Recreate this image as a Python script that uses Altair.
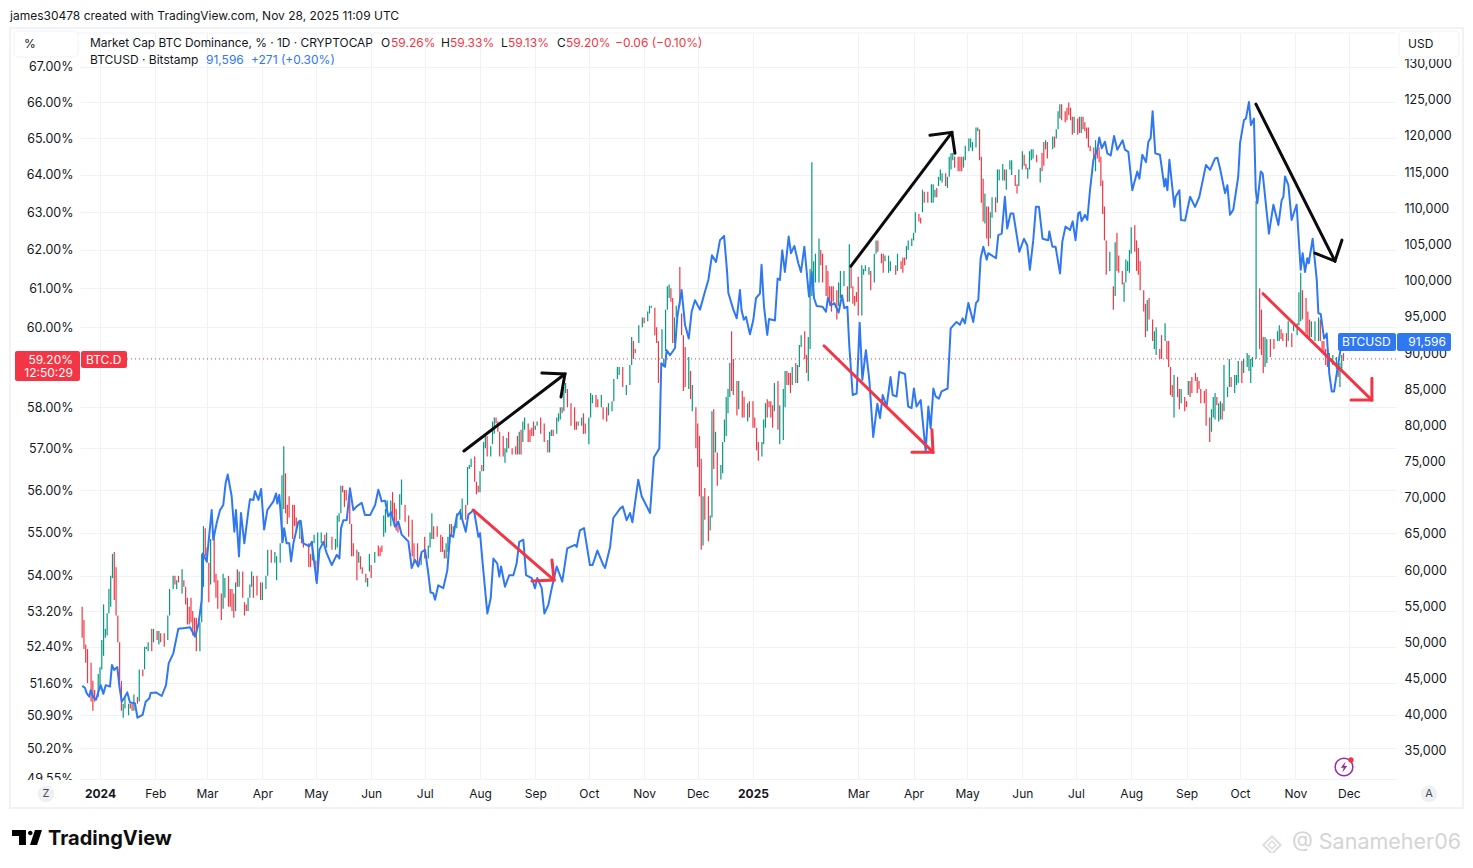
import altair as alt
import pandas as pd

FONT = "Inter"
RED = "#F23645"
GREEN = "#089981"
BLUE = "#2F78F2"
INK = "#131722"
GRID = "#F1F2F5"

# (day since 2024-01-01, low %, high %)
falling_candles = [
(-10,52.6,53.3),(-9,52.35,53.0),(-8,52.05,52.45),(-7,51.6,52.35),(-5,51.2,52.05),(-4,51.0,51.65),(-3,51.2,51.45),
(8,53.45,54.55),(9,53.1,54.2),(10,52.5,53.1),(11,51.65,52.5),(12,51,51.65),(17,51.05,51.15),(18,51,51.15),(21,51.15,51.3),(24,51.75,51.9),
(29,52.3,52.8),(32,52.55,52.75),(34,52.5,52.7),(36,52.4,52.7),(42,53.8,54),(44,53.85,54),(47,53.75,53.9),(48,53.35,53.75),(49,52.9,53.5),
(50,52.9,53.3),(51,52.95,53.5),(52,52.65,53.2),(53,52.65,53.05),(54,52.3,53.05),(59,54.45,55.1),(60,54.3,54.65),(61,53.4,54.3),(64,53.85,55.05),
(65,53.5,54.05),(66,53.25,53.9),(68,53,53.6),(72,53.3,54),(73,53.3,53.7),(74,53.2,53.7),(75,53.05,53.6),(77,53.75,54.15),(80,53.5,54.1),
(81,53.1,53.4),(82,53.2,53.35),(86,53.5,54),(88,53.55,54),(90,53.45,53.85),(96,54.3,54.6),(104,55.45,56.4),(105,55.2,55.65),(106,55.35,55.85),
(108,54.85,55.65),(109,55.15,55.65),(110,55,55.35),(113,54.75,55.1),(114,54.65,54.85),(117,54.2,54.75),(118,54.2,54.5),(121,53.9,54.35),
(126,54.7,54.95),(130,54.6,54.9),(136,55.95,56.1),(137,55.6,56),(138,55.75,56),(140,55.2,56.05),(141,54.45,55.2),(142,54.45,54.75),(144,53.9,54.6),
(146,54.15,54.45),(147,54.05,54.2),(149,53.85,54.05),(152,53.95,54.25),(156,54.45,54.7),(157,54.45,54.65),(158,54.55,54.7),(164,55.3,55.95),
(165,55.15,55.7),(166,55.05,55.55),(167,55,55.25),(171,55.25,55.65),(173,54.9,55.4),(175,54.45,55.3),(176,54.3,54.75),(178,54.3,54.75),
(182,54.4,54.9),(187,54.85,55.15),(189,54.9,55.15),(191,54.55,54.95),(192,54.55,54.9),(193,54.4,54.6),(197,54.9,55.2),(205,55.3,55.65),
(210,56.2,56.8),(211,55.9,56.2),(212,55.95,56.1),(214,56.45,56.6),(217,56.8,57.3),(222,57.6,57.75),(223,57.4,57.65),(224,56.8,57.4),(226,56.8,57.3),
(229,57,57.4),(231,56.85,57),(233,56.85,57.05),(234,56.85,57.3),(236,56.85,57.45),(240,57.15,57.6),(241,57.15,57.45),(242,57.3,57.5),(243,57.3,57.65),
(247,57.35,57.75),(249,57.15,57.6),(251,56.9,57.2),(254,57.3,57.45),(259,57.85,58),(262,58,58.45),(264,57.55,58.1),(266,57.45,58),(267,57.45,57.65),
(271,57.35,57.85),(272,57.35,57.6),(278,58,58.3),(279,58,58.2),(282,57.7,58),(284,57.65,58),(293,58.5,59),(299,59.2,59.65),(300,59.35,59.45),
(305,60.1,60.25),(311,59.8,60.5),(312,59.6,60),(313,58.6,59.65),(320,60.65,61),(321,59.6,60.75),(325,60.55,61.55),(326,59.8,60.35),(327,58.4,59.8),
(328,58.5,59.5),(331,58.2,58.9),(334,57,58),(335,56.55,57.6),(336,55.85,57.3),(337,54.6,56.75),(339,55.3,56.05),(341,54.8,55.85),(344,56.5,57.95),
(346,56.1,56.9),(354,58.4,59.9),(355,58.3,59.2),(357,57.8,58.65),(360,57.75,58.4),(361,57.75,58.25),(364,57.75,58.15),(366,57.5,58.15),(367,57.5,57.75),
(368,56.95,57.5),(369,56.7,57.15),(374,57.75,58.2),(375,58,58.15),(376,57.75,58.15),(377,57.5,58.05),(380,57.45,58.65),(385,58.55,58.9),(386,58.55,58.85),
(387,58.35,58.85),(390,58.6,59.1),(395,59.2,59.9),(396,58.85,59.3),(404,61.6,62),(405,61.15,61.9),(407,60.8,61.6),(408,60.65,61.45),(409,60.55,61.05),
(410,60.4,61.05),(411,60.65,61.05),(413,60.2,60.95),(419,60.65,61.05),(421,61,61.6),(422,60.6,61.05),(423,60.55,60.8),(424,60.65,60.9),(425,60.3,61.3),
(432,60.95,61.45),(436,61.95,62.25),(438,61.65,61.9),(439,61.4,61.9),(446,61.35,61.6),(449,61.5,61.7),(450,61.4,61.8),(451,61.6,61.8),(459,62.75,62.95),
(460,62.7,62.85),(462,63.25,63.55),(464,63.25,63.55),(469,63.4,63.65),(474,63.7,64.05),(479,64.2,64.5),(481,64.1,64.5),(482,64.1,64.5),(483,64.1,64.5),
(493,64.4,65.25),(494,63.25,64.5),(495,62.75,63.9),(497,62.3,63.15),(498,62.1,63.15),(502,63,63.4),(507,63.85,64.15),(513,63.7,64),(514,63.5,63.75),
(518,64.25,64.55),(519,64.15,64.3),(525,64.35,64.55),(528,64.1,64.6),(529,64.25,64.9),(531,64.45,64.9),(535,64.75,65.05),(539,65.5,65.95),(541,65.45,65.75),
(542,65.5,65.85),(543,65.65,66),(544,65.5,65.85),(545,65.1,65.6),(548,65.1,65.55),(549,65.15,65.6),(551,65.25,65.6),(552,65.2,65.45),(553,65,65.3),
(554,64.75,65.3),(555,64.65,64.8),(557,64.4,64.75),(559,64.45,64.75),(560,64.35,64.75),(561,63.7,64.5),(562,62.95,63.85),(563,62.25,63.15),(564,61.35,62.25),
(568,60.45,61.05),(570,61.45,62.45),(571,61.4,61.85),(573,61.1,61.45),(580,61.95,62.65),(581,61.45,62.25),(582,61.35,62.05),(583,60.95,61.7),(585,60.4,60.95),
(586,59.75,60.6),(588,60.2,60.75),(590,59.65,60.2),(594,59.2,59.45),(595,59.2,59.8),(598,59.2,59.65),(599,59,59.65),(600,58.3,59),(601,58.25,58.55),
(604,58.25,58.75),(605,57.95,58.45),(608,57.9,58.25),(609,58,58.15),(611,58.25,58.65),(612,58.35,58.75),(614,58.65,58.85),(615,58.35,58.75),(616,58.45,58.65),
(617,58.1,58.45),(619,58.1,58.4),(620,57.55,58.45),(622,57.15,57.75),(626,58.05,58.25),(629,57.7,58.1),(634,58.5,58.75),(640,58.6,59.15),(650,59.45,61),
(651,59.3,60.45),(652,58.85,59.75),(656,59.25,59.7),(658,59.45,59.7),(662,59.7,59.95),(663,59.65,59.85),(665,59.5,59.85),(668,59.5,59.85),(674,60.2,60.95),
(676,59.85,60.75),(677,59.75,60.4),(678,59.7,60.2),(684,59.65,60.2),(685,59.35,59.65),(686,59.3,59.65),(687,59.05,59.45),(688,59,59.3),(694,58.75,59.05),(697,59.15,59.35),
]
rising_candles = [
(-1,51.3,51.8),(0,51.5,51.95),(1,51.9,52.55),(2,52.2,53.35),(3,52.6,52.8),(4,52.65,53.15),(5,53.15,53.7),(6,53.3,54),(7,53.95,54.5),(13,50.85,51.15),
(14,51.05,51.3),(16,50.9,51.15),(19,51,51.35),(22,51.2,51.9),(25,51.9,52.4),(26,52.35,52.4),(27,52.3,52.5),(30,52.5,52.8),(33,52.45,52.75),(38,52.55,53.1),
(39,53.1,53.7),(41,53.7,54),(43,53.7,53.9),(46,53.6,54.15),(56,52.3,52.95),(57,52.95,54.5),(58,53.75,55.15),(62,53.8,54.85),(69,53.25,54.05),(70,53.5,53.95),
(76,53.2,53.85),(78,53.75,54.1),(83,53.2,53.5),(84,53.5,53.8),(85,53.75,54.1),(91,53.45,53.85),(93,53.7,54),(94,54,54.6),(98,54.3,54.55),(99,53.9,54.45),
(101,54.3,54.75),(102,54.75,56.35),(103,55.55,57.05),(112,54.85,55.3),(119,54.35,54.8),(120,54.75,54.95),(122,54.05,55),(124,54.75,55),(127,54.65,55),
(132,54.6,54.85),(133,54.65,55.4),(134,55.25,55.45),(135,55.45,56.1),(145,54.3,54.55),(150,53.75,53.95),(151,54.1,54.5),(154,54.3,54.55),(159,54.9,55.4),
(160,55,55.55),(161,55.45,55.75),(163,55.15,55.75),(168,55.3,55.9),(169,55.65,56.25),(180,54.25,54.5),(184,54.4,54.7),(185,54.65,55),(186,54.85,55.45),
(194,54.4,54.75),(195,54.55,54.9),(196,54.75,55.2),(198,55,55.15),(200,55.1,55.45),(202,55.3,55.55),(203,55.35,55.8),(206,55.65,56.55),(207,56.5,56.6),
(208,56.55,56.75),(213,55.95,56.45),(215,56.45,57.15),(216,57,57.35),(219,56.8,57.05),(220,57.1,57.65),(221,57.35,57.75),(227,56.65,57),(228,56.9,57.25),
(235,56.85,57.4),(237,57.15,57.65),(238,57.45,57.75),(244,57.45,57.55),(245,57.55,57.65),(252,56.9,57.4),(253,57.3,57.45),(256,57.35,57.75),(257,57.65,57.85),
(258,57.7,58),(260,57.9,58.5),(261,58.35,58.6),(268,57.55,57.65),(270,57.55,57.75),(274,57.1,57.75),(275,57.75,58.35),(276,58.1,58.3),(281,58,58.3),
(285,57.8,58.1),(287,57.9,58.15),(288,58.15,58.7),(290,58.7,59),(291,58.8,59),(295,58.3,58.55),(297,58.55,59.05),(298,59.05,59.75),(302,59.6,60.05),
(304,60,60.25),(307,60.15,60.4),(308,60.35,60.55),(309,60.5,60.55),(315,59.2,59.95),(316,59,59.2),(317,59.4,60.45),(318,60.45,61.05),(319,60.75,61.1),
(322,59.6,60.25),(323,60.25,60.55),(330,58.45,59.25),(332,57.9,58.55),(338,54.7,55.85),(342,55.05,55.4),(343,55.35,57.9),(345,56.9,57.4),(348,56.25,56.6),
(349,56.4,57.15),(350,57.15,57.7),(351,57.3,58.25),(352,57.85,58.45),(353,58.25,59.1),(358,57.95,58.65),(363,57.65,58.1),(371,56.8,57.15),(372,57.1,57.7),
(373,57.5,58.1),(378,57.9,58.6),(381,57.1,58.05),(383,57.2,58.45),(384,58,58.9),(388,58.55,59),(391,58.6,59.05),(392,59,59.55),(393,59.5,59.8),(397,58.65,59.75),
(398,59.45,61.5),(399,60.8,64.35),(400,60.8,61.7),(401,61.15,61.9),(403,61.15,62.3),(414,60.55,61.15),(415,60.75,61.45),(417,61.05,61.45),(420,60.65,62.15),
(427,60.3,61.6),(428,61.35,61.5),(429,61.45,61.6),(431,61.35,61.55),(434,61.15,61.9),(435,61.9,62.25),(440,61.7,61.85),(442,61.4,61.85),(443,61.45,61.7),
(447,61.45,61.9),(452,61.75,62.1),(453,62,62.25),(455,62.1,62.3),(456,62.25,62.45),(457,62.45,63),(461,63,63.6),(466,63.25,63.75),(467,63.25,63.75),
(468,63.4,63.6),(470,63.7,63.95),(471,63.85,64.15),(472,63.8,64.05),(475,63.65,63.95),(476,63.95,64.5),(477,64.15,64.6),(478,64.4,64.6),(484,64.2,64.5),
(485,64.4,64.8),(487,64.65,65),(488,64.75,65),(489,64.65,64.9),(491,64.75,65.3),(492,65.2,65.3),(496,62.7,63.5),(499,62.3,63),(500,62.85,63.4),(503,63.25,64.15),
(504,63.85,64.15),(506,63.85,64.3),(508,63.6,64.15),(510,64.15,64.4),(511,64,64.4),(515,63.7,64.15),(517,64.15,64.65),(520,63.9,64.2),(521,64.15,64.65),
(522,64.4,64.7),(523,64.45,64.7),(527,63.8,64.2),(530,64.7,64.95),(534,64.7,65.05),(536,65,65.25),(537,65.25,65.75),(538,65.55,65.95),(546,65.15,65.6),
(550,65.15,65.6),(558,64.1,64.95),(566,61.45,61.95),(569,60.8,62.2),(574,60.65,61.15),(575,61.15,61.75),(576,61.45,61.7),(577,61.4,62),(578,61.9,62.6),
(587,59.9,60.7),(591,59.45,59.9),(592,59.3,60),(597,59.65,60.1),(602,57.75,58.8),(606,58.1,58.45),(610,58.3,58.65),(623,57.4,57.95),(624,57.75,58.25),
(625,57.7,58.35),(627,57.65,58.1),(628,57.7,58.15),(630,57.9,59.05),(632,58.25,58.5),(633,58.5,59.2),(636,58.35,58.8),(637,58.55,58.8),(638,58.6,59.15),
(641,58.85,59.2),(643,59,59.35),(644,58.9,59.3),(645,58.6,59.2),(646,59,59.25),(648,59.2,63.3),(653,59,59.75),(654,59.1,59.7),(660,59.65,59.9),(661,59.65,60.05),
(666,59.65,60.15),(669,59.9,60.05),(671,59.8,60.1),(672,60.05,60.9),(673,60.15,61.4),(679,59.75,60.15),(681,59.65,60.15),(683,59.65,60.25),(689,58.9,59.35),
(691,59.05,59.3),(693,58.95,59.25),(695,58.5,59.1),(696,58.9,59.3),
]

# (day since 2024-01-01, BTCUSD in thousands)
btc_path = [
(-9.9,44),(-8.4,43.7),(-7.5,43),(-6,42.5),(-5.2,43.4),(-3.7,42.4),(-2.2,42.1),(-.9,43.2),(.4,44.1),(1.9,42.9),(3.2,44.1),(5.6,43.9),(6.7,46.9),(7.9,46.2),(9.7,46.6),
(10.9,43.9),(12.2,41.8),(14,42.5),(15.3,43.1),(16.8,41.7),(19.6,41.6),(21,39.6),(23.9,40),(25.6,41.8),(27.7,42.3),(28.4,43),(31.4,43.1),(34.6,42.6),(37,44.1),(38.5,47.1),
(41.1,48.5),(43,50.8),(43.9,51.9),(47.7,52),(50.5,52.1),(53.3,50.8),(55.1,52.4),(57,55.9),(57.6,62.3),(59.8,61.2),(62.6,68.3),(63.5,64.2),(65.4,66.5),(67.3,68.3),(69.1,69),
(70.4,72),(71.6,73.2),(73.8,70.2),(75.3,65.3),(76.2,68.3),(77.9,61.9),(79,67.9),(80.9,63.7),(83.2,68.3),(84.1,69.8),(86,69.7),(86.9,70.9),(88.8,69.7),(90.3,71.2),(92,65.6),
(93.8,68.3),(97.2,69.5),(98.7,70.6),(99.4,69.2),(100.5,70.4),(102.4,63.9),(103.2,65.8),(104.6,63.7),(106.1,63.7),(107.1,61.2),(108.4,63.7),(111.2,66.7),(112.5,66.8),(114,63.7),
(117.3,63.3),(118.7,63.9),(121.5,58.2),(123,62.8),(125.2,63.9),(127.1,62.3),(129.9,60.7),(132.7,62.1),(134.2,61.6),(135.1,65.8),(136.4,66.9),(138.3,66.9),(140.1,71.3),(142,68.3),
(143.9,68.8),(146.7,69.3),(148.5,67.6),(151.4,67.6),(154.2,69),(156,71.1),(157.9,69.5),(159.8,69.6),(161.6,67.4),(163.1,68),(165.4,66),(167.2,66.7),(169.1,64.9),(171.9,64.2),
(172.8,64),(173.8,62.1),(174.7,60.3),(176.6,61.4),(178.4,60.5),(180.3,62.5),(182.2,62.8),(184,59.6),(185.3,56.9),(186.8,56.8),(187.8,55.9),(189.6,57.9),(192.4,57.5),(194.7,60),
(196.2,64.9),(198,64.6),(199.9,67.4),(201.8,68.1),(205,65.3),(206.5,67.7),(209.6,68.3),(212.1,64.6),(213,65.1),(214.5,60.9),(217.1,54),(219,56.1),(220.5,61.6),(222.7,60.9),
(223.8,59.1),(224.8,60.5),(227,57.7),(229.4,59.3),(231.7,59.3),(233.5,60.9),(235,63.9),(237.3,64.2),(238.8,59.3),(242,58.9),(243.8,57.5),(245.1,58.9),(247.6,57.5),(249.1,54),
(251.3,55.2),(253.2,57.5),(256,60.5),(259.1,58.4),(261.9,63),(266.2,63.5),(267.2,63.2),(269,65.5),(271.3,65.8),(274.6,60.7),(276.1,60.7),(278.8,62.7),(282.1,60.7),(283.1,60.3),
(285.9,63.2),(287.7,67.2),(291.5,68.5),(293,68.8),(295.2,66.9),(297.1,67.9),(298.4,66.6),(301.7,72.5),(303.6,70.2),(308.3,67.9),(310.5,75.6),(313.5,76.8),(314.6,88.6),(316.7,88.1),
(317.6,90.4),(319.5,89.7),(322.3,90.7),(323.6,95),(326,98.7),(327.9,93.9),(330,92),(331.6,95.7),(333.5,97.3),(336.3,96),(339.1,98.5),(341,100.1),(343,103.5),(345.3,102.6),
(347.5,105.6),(349.8,106.2),(351.4,101.5),(352.2,98.3),(355,96),(356.9,94.8),(358.7,98.7),(359.6,95.9),(360.9,94.6),(362.1,95),(364.3,92.6),(366.2,94.6),(367.7,97.6),(369.9,98.2),
(370.8,102.2),(372.2,96.4),(374,92.5),(375,94.7),(378.3,94.5),(379.8,100.3),(381.1,100.1),(382.4,104.2),(383.9,101.2),(386,106.1),(387.3,103.8),(389.2,104.8),(391.4,102.4),(392.9,101.2),
(394.8,104.7),(397.4,97.8),(398.9,101.2),(400.2,97.6),(401.7,96.5),(405,96.4),(406.9,95.7),(408,97.6),(409.7,96.6),(411.6,96.9),(414,95.6),(415.9,98),(417.2,96.2),(418.9,96.4),
(420,90.9),(421.9,84.2),(424.1,84.4),(425.8,94.2),(427.3,86.3),(429.3,90.4),(431.2,86.3),(433.4,78.4),(435.7,83),(437.2,81),(438.7,84.2),(440.9,82.6),(443.1,86.7),(444.3,84.2),
(446.5,84),(448,87.4),(451.2,87.1),(453,82.6),(454.9,82.4),(456.2,85.1),(457.7,82.6),(460,83.5),(462.8,76.4),(464.3,82.6),(465.6,79.6),(467.1,85.1),(468.4,84),(470.2,83.7),
(471.7,84.7),(475.1,85.1),(476.8,93.4),(480.1,94.3),(482,93.9),(483.5,94.8),(484.8,94.1),(486.7,96.9),(489.5,94.3),(491,96.9),(492.3,97.3),(493.6,103.1),(495.1,104.7),(497,102.9),
(497.9,103.8),(502.2,103.1),(503.5,106.3),(505.4,106.5),(507.2,111.6),(508.5,107.2),(510.4,109.3),(511.9,109.3),(515.3,104),(517.9,105.8),(519.7,104.9),(521.2,101.5),(523.1,105.6),
(524.6,110.2),(526.3,110.2),(528.3,105.8),(531.5,105.6),(532.1,106.8),(533.8,104.7),(535.6,104.7),(538.1,101),(539.4,105.4),(541.2,107.5),(543.7,107),(545.2,108.2),(546.8,105.6),
(548.3,109.3),(549.3,109.5),(550.2,108.2),(552.1,109.1),(553.4,108.4),(554.9,112.5),(556.8,116.7),(559,118.1),(560.1,119.8),(561.5,118.3),(563.3,119.2),(564.6,117.6),(566.5,117.3),
(568.4,120),(570.2,118.1),(573.2,119.4),(574.5,118.1),(576.4,117.8),(578.6,112.5),(581.4,115.1),(582.6,114.1),(584.2,117.4),(586.3,116.4),(587.6,119.2),(588.9,119.7),(590,123.4),
(591.5,117.6),(594.1,117.4),(596.6,113),(597.3,114.1),(598.3,112.5),(599.4,116.7),(602.2,110.2),(602.9,111.6),(605,112.5),(605.9,108.4),(608.2,108.3),(611,111.6),(613.8,110.2),
(616.2,111.6),(619.9,116),(622.2,115.3),(625,116.9),(626.3,117),(627.8,115.5),(630.6,112.1),(631.9,113.2),(633.4,109.1),(635.2,109.8),(638,114.4),(639,119),(641.2,122.2),(642.3,122.4),
(644,124.7),(645.1,121.5),(646.8,122.4),(647.8,112.5),(648.7,110.7),(650.6,115.1),(651.7,114.8),(655.2,106.5),(657.7,110.5),(660.5,107.7),(662.3,111.1),(663.3,111.6),(664.2,114.4),
(666.1,113.2),(667.9,108.4),(670.7,110.5),(673,101.5),(674.1,103.8),(675.4,101.2),(676.7,103.1),(677.5,102.4),(679.7,105.8),(682,100.1),(682.9,95.5),(684.2,95.4),(686.1,92),(687.6,92.7),
(689,87.2),(690.4,84.7),(691.7,84.7),(693.2,87.2),(694.7,89.5),(696,91.6),
]

# hand-drawn arrows: (day, BTC thousands) per stroke
arrow_black_1 = [(204,76.46),(260.6,87.1)]
arrow_black_1_head = [(247.7,87.24),(260.6,87.1),(258.4,83.92)]
arrow_red_1 = [(209.1,68.31),(254.5,58.63)]
arrow_red_1_head = [(253.3,61.4),(254.5,58.63),(242.1,58.49)]
arrow_black_2 = [(420.9,102),(477.5,120.5)]
arrow_black_2_head = [(465.2,120.1),(477.5,120.5),(479.2,117.6)]
arrow_red_2 = [(405.8,91),(466.9,76.3)]
arrow_red_2_head = [(466.3,79.4),(466.9,76.3),(455.1,76.3)]
arrow_black_3 = [(647.9,124.4),(692.2,102.7)]
arrow_black_3_head = [(681,103.8),(692.2,102.7),(696.1,105.6)]
arrow_red_3 = [(651.9,98.2),(712.9,83.5)]
arrow_red_3_head = [(712.9,86.5),(712.9,83.5),(701.2,83.5)]

left_ticks = [49.55,50.2,50.9,51.6,52.4,53.2,54,55,56,57,58,60,61,62,63,64,65,66,67]
right_ticks = list(range(35000, 135000, 5000))
month_ticks = [(2024,m) for m in range(1,13)] + [(2025,1)] + [(2025,m) for m in range(3,13)]

START = pd.Timestamp("2024-01-01")
def when(d):
    return (START + pd.to_timedelta(d, unit="D")).strftime("%Y-%m-%dT%H:%M:%S")

candles = pd.DataFrame(
    [{"t": when(d), "low": l, "high": h, "dir": "down"} for d, l, h in falling_candles] +
    [{"t": when(d), "low": l, "high": h, "dir": "up"} for d, l, h in rising_candles])
btc = pd.DataFrame([{"t": when(d), "p": k * 1000} for d, k in btc_path])

x_scale = alt.Scale(type="time", domain=[
    alt.DateTime(year=2023, month=12, date=20, hours=19),
    alt.DateTime(year=2025, month=12, date=27, hours=10)])
left_scale = alt.Scale(type="log", domain=[49.545, 67.97], nice=False)
right_scale = alt.Scale(type="linear", domain=[31130, 134230], nice=False, zero=False)

x_axis = alt.Axis(
    values=[alt.DateTime(year=y, month=m, date=1) for y, m in month_ticks],
    labelExpr="month(datum.value)==0 ? timeFormat(datum.value,'%Y') : timeFormat(datum.value,'%b')",
    labelFontWeight={"condition": {"test": "month(datum.value)==0", "value": "bold"}, "value": "normal"},
    grid=True, gridColor=GRID, gridWidth=1, ticks=False, domain=True, domainColor=GRID,
    labelFont=FONT, labelFontSize=12, labelColor=INK, labelPadding=9, labelOverlap=False,
    labelFlush=False, labelBound=False, title=None)
X = alt.X("t:T", scale=x_scale, axis=x_axis, title=None)
left_axis = alt.Axis(
    orient="left", values=left_ticks, labelExpr="format(datum.value,'.2f')+'%'",
    grid=True, gridColor=GRID, gridWidth=1, ticks=False, domain=False,
    labelFont=FONT, labelFontSize=12.5, labelColor=INK, labelPadding=7, labelOverlap=False,
    labelBound=False, labelFlush=False, title=None)
right_axis = alt.Axis(
    orient="right", values=right_ticks, format=",d",
    grid=False, ticks=False, domain=False,
    labelFont=FONT, labelFontSize=12.5, labelColor=INK, labelPadding=8, labelOverlap=False,
    labelBound=False, labelFlush=False, title=None)

ONE = alt.Data(values=[{"k": 1}])
def px(x): return alt.value(x - 80)
def py(y): return alt.value(y - 33)

def txt(s, x, y, color=INK, size=12, weight="normal", align="left", font=FONT):
    return alt.Chart(ONE).mark_text(text=s, align=align, baseline="middle", font=font,
                                    fontSize=size, fontWeight=weight, color=color).encode(x=px(x), y=py(y))
def box(x0, y0, x1, y1, fill="#FFFFFF", stroke=None, sw=1, r=0):
    kw = dict(fill=fill, cornerRadius=r, opacity=1)
    if stroke:
        kw.update(stroke=stroke, strokeWidth=sw)
    return alt.Chart(ONE).mark_rect(**kw).encode(x=px(x0), x2=px(x1), y=py(y0), y2=py(y1))
def sym(x, y, shape, size, fill=None, stroke=None, sw=1):
    kw = dict(shape=shape, size=size, opacity=1, filled=fill is not None)
    if fill: kw["fill"] = fill
    if stroke:
        kw.update(stroke=stroke, strokeWidth=sw)
    return alt.Chart(ONE).mark_point(**kw).encode(x=px(x), y=py(y))

candle_layer = alt.Chart(candles).mark_rule(strokeWidth=1.2).encode(
    x=X,
    y=alt.Y("low:Q", scale=left_scale, axis=left_axis, title=None),
    y2="high:Q",
    color=alt.Color("dir:N", scale=alt.Scale(domain=["down", "up"], range=[RED, GREEN]), legend=None))

last_line = alt.Chart(pd.DataFrame({"v": [59.2]})).mark_rule(color=RED, strokeWidth=1, strokeDash=[1, 3]).encode(
    y=alt.Y("v:Q", scale=left_scale, axis=None))

btc_layer = alt.Chart(btc).mark_line(color=BLUE, strokeWidth=2, strokeJoin="round", interpolate="linear").encode(
    x=X, y=alt.Y("p:Q", scale=right_scale, axis=right_axis, title=None), order="t:T")

arrow_rows = []
for i, (pts, col) in enumerate([
        (arrow_black_1, "k"), (arrow_black_1_head, "k"), (arrow_red_1, "r"), (arrow_red_1_head, "r"),
        (arrow_black_2, "k"), (arrow_black_2_head, "k"), (arrow_red_2, "r"), (arrow_red_2_head, "r"),
        (arrow_black_3, "k"), (arrow_black_3_head, "k"), (arrow_red_3, "r"), (arrow_red_3_head, "r")]):
    for j, (d, k) in enumerate(pts):
        arrow_rows.append({"s": i, "o": j, "t": when(d), "p": k * 1000, "c": col})
arrows = alt.Chart(pd.DataFrame(arrow_rows)).mark_line(strokeWidth=3, strokeCap="round", strokeJoin="miter").encode(
    x=X, y=alt.Y("p:Q", scale=right_scale, axis=None), detail="s:N", order="o:Q",
    color=alt.Color("c:N", scale=alt.Scale(domain=["k", "r"], range=["#0B0B0F", RED]), legend=None))

BOLT = "M0.3,-1 L-0.6,0.15 L-0.05,0.15 L-0.3,1 L0.6,-0.2 L0.05,-0.2 Z"
TV_LOGO = ("M-1,-0.53 L-0.07,-0.53 L-0.07,0.47 L-0.53,0.47 L-0.53,-0.13 L-1,-0.13 Z "
           "M0.07,-0.33 A0.15,0.15 0 1 1 0.37,-0.33 A0.15,0.15 0 1 1 0.07,-0.33 Z "
           "M0.53,-0.53 L1,-0.53 L0.67,0.47 L0.2,0.47 Z")

chrome = [
    box(10, 28, 1463, 808, fill="transparent", stroke="#F1F2F5", sw=2),
    alt.Chart(ONE).mark_rule(color=GRID, strokeWidth=1).encode(x=px(58), x2=px(1396), y=py(33)),
    box(14, 780, 79, 806),
    box(14, 31, 78, 57, stroke="#F1F2F5", r=4),
    txt("%", 24, 44),
    box(1399, 31, 1459, 59),
    box(1399, 31, 1459, 57, stroke="#F1F2F5", r=4),
    txt("USD", 1408, 44),
    txt("james30478 created with TradingView.com, Nov 28, 2025 11:09 UTC", 10, 16),
    txt("Market Cap BTC Dominance, % · 1D · CRYPTOCAP", 90, 43, size=11.9),
    txt("O", 381, 43), txt("59.26%", 391, 43, RED),
    txt("H", 441, 43), txt("59.33%", 450, 43, RED),
    txt("L", 501, 43), txt("59.13%", 508, 43, RED),
    txt("C", 557, 43), txt("59.20%", 566, 43, RED),
    txt("−0.06 (−0.10%)", 615, 43, RED),
    txt("BTCUSD · Bitstamp", 90, 60),
    txt("91,596", 206, 60, BLUE),
    txt("+271 (+0.30%)", 251, 60, BLUE),
    box(15, 351, 80, 381, fill=RED, r=2),
    box(81, 351, 127, 368, fill=RED, r=2),
    txt("59.20%", 73, 360, "#FFFFFF", align="right"),
    txt("12:50:29", 73, 373, "#FFFFFF", align="right"),
    txt("BTC.D", 86, 360, "#FFFFFF"),
    box(1338, 333, 1396, 351, fill=BLUE, r=2),
    box(1397, 333, 1451, 351, fill=BLUE, r=2),
    txt("BTCUSD", 1342, 342, "#FFFFFF"),
    txt("91,596", 1446, 342, "#FFFFFF", align="right"),
    sym(46, 794, "circle", 280, fill="#EFF0F3"),
    txt("Z", 46, 794, "#4A4E5A", size=11, align="center"),
    sym(1429, 794, "circle", 280, fill="#EFF0F3"),
    txt("A", 1429, 794, "#4A4E5A", size=11, align="center"),
    sym(1344, 767, "circle", 314, stroke="#9C27B0", sw=1.5),
    sym(1344, 767, BOLT, 120, fill="#9C27B0"),
    sym(1351, 760, "circle", 28, fill=RED),
    sym(27, 838, TV_LOGO, 900, fill="#000000"),
    txt("TradingView", 48, 839, "#0F0F0F", size=20, weight="bold"),
    sym(1272, 845, "diamond", 300, stroke="#DDDDDD", sw=2),
    sym(1272, 845, "diamond", 60, stroke="#DDDDDD", sw=1.5),
    txt("@ Sanameher06", 1292, 843, "#D4D4D4", size=21.5),
]

chart = alt.layer(candle_layer, last_line, btc_layer, arrows, *chrome).resolve_scale(
    y="independent", color="independent"
).properties(
    width=1316, height=746,
    padding={"left": 72, "top": 25, "right": 69, "bottom": 74},
    autosize=alt.AutoSizeParams(type="none", contains="content"),
    background="#FFFFFF",
).configure_view(stroke=None)

chart.save("out.html", embed_options={"renderer": "svg", "actions": False})
